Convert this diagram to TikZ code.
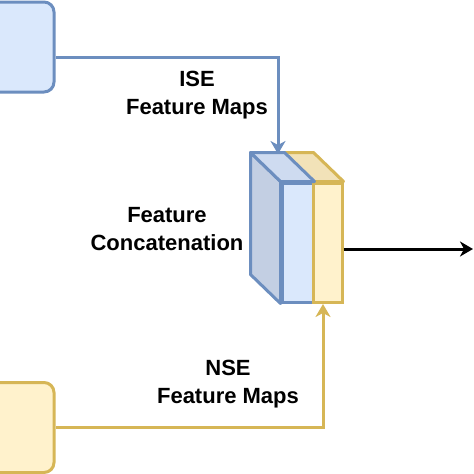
\documentclass[tikz,border=0pt]{standalone}
\usepackage{fontspec}
\setmainfont{Liberation Sans}
\usetikzlibrary{positioning, arrows.meta, calc}
\definecolor{iseFill}{HTML}{DAE8FC}
\definecolor{iseLine}{HTML}{6C8EBF}
\definecolor{iseSide}{HTML}{C3CFE3}
\definecolor{iseTop}{HTML}{CEDBF0}
\definecolor{nseFill}{HTML}{FFF2CC}
\definecolor{nseLine}{HTML}{D6B656}
\definecolor{nseTop}{HTML}{F2E2B8}
\tikzset{
  src/.style  = {draw, rounded corners=10pt, line width=3pt,
                 minimum width=124pt, minimum height=90pt},
  slab/.style = {draw, line width=3pt, minimum height=119pt, inner sep=0pt},
  face/.style = {line width=3pt, line join=round},
  lbl/.style  = {font=\bfseries\fontsize{22}{28}\selectfont, align=center,
                 inner sep=0pt},
  ar/.style   = {-{Stealth[length=13pt, width=15pt, inset=4pt]}, line width=3pt},
}
\begin{document}
\begin{tikzpicture}[x=1pt, y=-1pt]
  \clip (0,0) rectangle (474,474);
  \useasboundingbox (0,0) rectangle (474,474);
  % source boxes
  \node[src, draw=iseLine, fill=iseFill] (ibox) at (-8, 47) {};
  \node[src, draw=nseLine, fill=nseFill] (nbox) at (-8, 427.5) {};
  % cube, front faces
  \node[slab, draw=iseLine, fill=iseFill, minimum width=31pt] (isef) at (297.5, 242.5) {};
  \node[slab, draw=nseLine, fill=nseFill, minimum width=29pt] (nsef) at (327.5, 242.5) {};
  \coordinate (dp) at (-30, -29);
  % cube, side and top faces
  \filldraw[face, draw=nseLine, fill=nseTop] (nsef.north west) -- ($(nsef.north west)+(dp)$)
    -- ($(nsef.north east)+(dp)$) -- (nsef.north east) -- cycle;
  \filldraw[face, draw=iseLine, fill=iseSide] (isef.north west) -- ($(isef.north west)+(dp)$)
    -- ($(isef.south west)+(dp)$) -- (isef.south west) -- cycle;
  \filldraw[face, draw=iseLine, fill=iseTop] (isef.north west) -- ($(isef.north west)+(dp)$)
    -- ($(isef.north east)+(dp)$) -- (isef.north east) -- cycle;
  % arrow ends
  \coordinate (isein) at (278, 154);
  \coordinate (nsein) at (323, 304);
  \coordinate (out) at (473, 249);
  % connectors
  \draw[ar, iseLine] ([yshift=-10pt]ibox.east) -| (isein);
  \draw[ar, nseLine] (nbox.east) -| (nsein);
  \draw[ar, black] ([yshift=-6.5pt]nsef.east) -- (out);
  % labels
  \node[lbl] (isel) at (197, 95) {ISE\\Feature Maps};
  \node[lbl] (nsel) at (228, 384) {NSE\\Feature Maps};
  \node[lbl] (catl) at (167, 229.5) {Feature\\Concatenation};
\end{tikzpicture}
\end{document}
